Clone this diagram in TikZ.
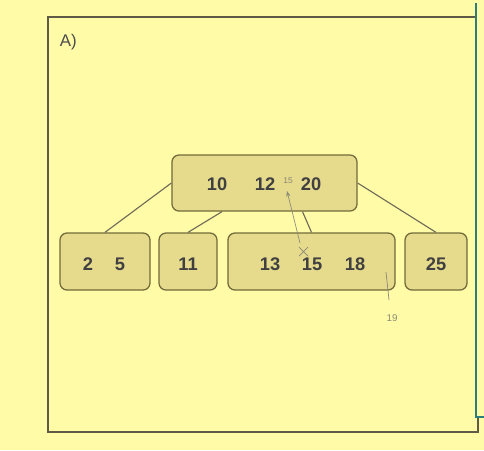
\documentclass[tikz,border=0pt]{standalone}
\usepackage{fontspec}
\setmainfont{Liberation Sans}
\usetikzlibrary{arrows.meta}
\definecolor{paper}{HTML}{FFFBA6}
\definecolor{boxfill}{HTML}{E6DA8C}
\definecolor{boxline}{HTML}{726B3C}
\definecolor{inkline}{HTML}{5E5A45}
\definecolor{tealline}{HTML}{2F7C7C}
\definecolor{pencil}{HTML}{8A8A78}
\tikzset{
	keybox/.style={draw=boxline, line width=0.9pt, fill=boxfill, rounded corners=5pt, inner sep=0pt},
	key/.style={text=black!75, font=\fontsize{13}{15}\selectfont\bfseries},
	treeedge/.style={draw=inkline!90, line width=0.8pt},
	pencilmark/.style={draw=pencil, line width=0.5pt}
}
\begin{document}
\begin{tikzpicture}[x=0.025cm, y=-0.025cm]
	% background and frame
	\fill[paper] (0,0) rectangle (484,450);
	\useasboundingbox (0,0) rectangle (484,450);
	\draw[inkline, line width=1.1pt] (477,17)--(48,17)--(48,432)--(478,432)--(478,418);
	\draw[tealline, line width=1.3pt] (476,3)--(476,417)--(484,417);
	\node[text=black!70, font=\fontsize{12}{14}\selectfont, anchor=west] (lab) at (55,42) {A)};
	% boxes
	\node[keybox, minimum width=4.625cm, minimum height=1.4cm] (root) at (264.5,183) {};
	\node[keybox, minimum width=2.25cm, minimum height=1.425cm] (b1) at (105,261.5) {};
	\node[keybox, minimum width=1.45cm, minimum height=1.425cm] (b2) at (188,261.5) {};
	\node[keybox, minimum width=4.175cm, minimum height=1.425cm] (b3) at (311.5,261.5) {};
	\node[keybox, minimum width=1.55cm, minimum height=1.425cm] (b4) at (436,261.5) {};
	% keys
	\node[key] (k10) at (217,184) {10};
	\node[key] (k12) at (265,184) {12};
	\node[key] (k20) at (311,184) {20};
	\node[key] (k2) at (88,264) {2};
	\node[key] (k5) at (120,264) {5};
	\node[key] (k11) at (188,264) {11};
	\node[key] (k13) at (270,264) {13};
	\node[key] (k15) at (312,264) {15};
	\node[key] (k18) at (355,264) {18};
	\node[key] (k25) at (436,264) {25};
	% edges
	\draw[treeedge] (root.west)--(b1.north);
	\draw[treeedge] (root.214)--(b2.north);
	\draw[treeedge] (root.323)--(b3.north);
	\draw[treeedge] (root.east)--(b4.north);
	% pencil marks
	\coordinate (up0) at (300,243);
	\coordinate (up1) at (287,191);
	\draw[pencilmark, -{Stealth[length=4pt]}] (up0)--(up1);
	\node[text=pencil, font=\fontsize{6}{7}\selectfont] (n15) at (288,181) {15};
	\draw[pencilmark] (299,247)--(308,256) (308,247)--(299,256);
	\coordinate (dn0) at (386,272);
	\coordinate (dn1) at (389,300);
	\draw[pencilmark] (dn0)--(dn1);
	\node[text=pencil, font=\fontsize{7}{8}\selectfont] (n19) at (392,318) {19};
\end{tikzpicture}
\end{document}
